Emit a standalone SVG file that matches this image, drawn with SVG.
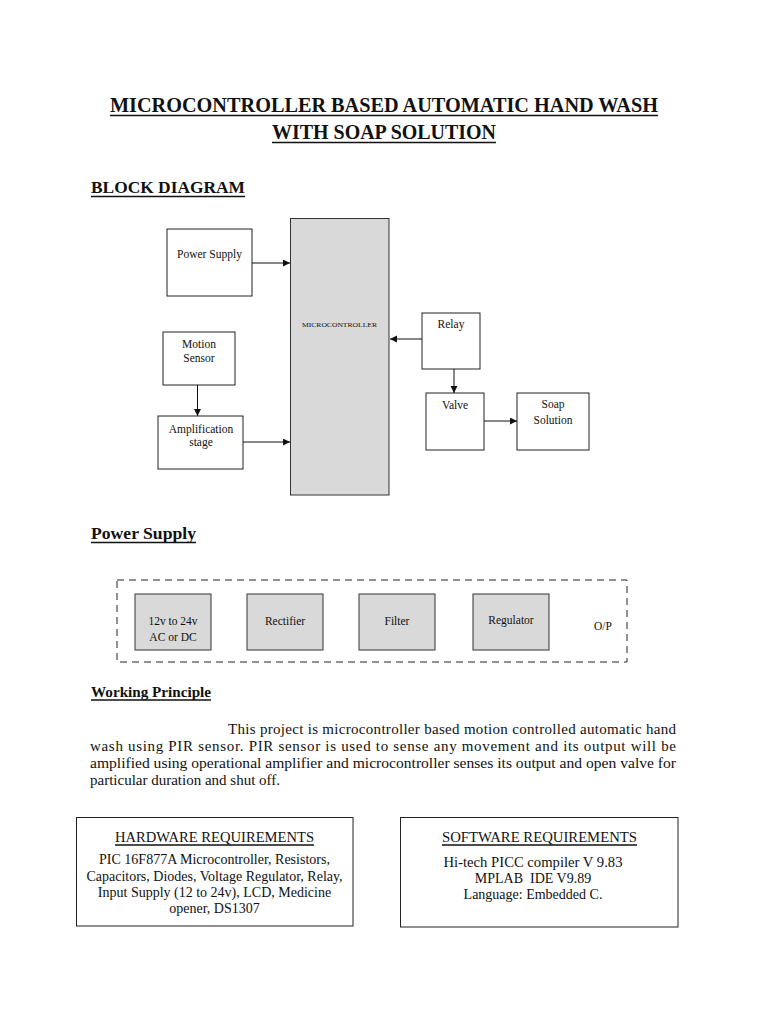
<svg xmlns="http://www.w3.org/2000/svg" width="768" height="1024" viewBox="0 0 768 1024">
<style>
text{font-family:"Liberation Serif","Times New Roman",serif;fill:#111}
.h{font-weight:bold}
.sm{font-size:11.5px;text-anchor:middle}
.box{fill:#fff;stroke:#222;stroke-width:1}
.gbox{fill:#d9d9d9;stroke:#333;stroke-width:1}
.ul{stroke:#111;stroke-width:1.3}
.conn line{stroke:#111;stroke-width:1;marker-end:url(#ah)}
.p{font-size:14px}
.q{font-size:15px}
.c{text-anchor:middle}
</style>
<defs>
<marker id="ah" markerWidth="8" markerHeight="8" refX="7" refY="3.5" orient="auto" markerUnits="userSpaceOnUse">
<path d="M0,0 L7,3.5 L0,7 Z" fill="#111"/>
</marker>
</defs>
<rect width="768" height="1024" fill="#fff"/>

<g id="title">
<text x="384" y="112" class="h c" font-size="20" textLength="548" lengthAdjust="spacingAndGlyphs">MICROCONTROLLER BASED AUTOMATIC HAND WASH</text>
<line class="ul" x1="110" y1="115.5" x2="658" y2="115.5"/>
<text x="384" y="139" class="h c" font-size="20" textLength="224" lengthAdjust="spacingAndGlyphs">WITH SOAP SOLUTION</text>
<line class="ul" x1="272" y1="142.5" x2="496" y2="142.5"/>
<text x="91" y="193" class="h" font-size="17" textLength="154" lengthAdjust="spacingAndGlyphs">BLOCK DIAGRAM</text>
<line class="ul" x1="91" y1="196.5" x2="245" y2="196.5"/>
</g>

<g id="power-supply">
<rect class="box" x="167" y="229" width="85" height="67"/>
<text class="sm" x="209.5" y="258">Power Supply</text>
</g>
<g id="microcontroller">
<rect class="gbox" x="290.5" y="218.5" width="98.5" height="276.5"/>
<text x="339.5" y="327" font-size="7" text-anchor="middle" textLength="75" lengthAdjust="spacingAndGlyphs">MICROCONTROLLER</text>
</g>
<g id="motion-sensor">
<rect class="box" x="163" y="332" width="72" height="53"/>
<text class="sm" x="199" y="348">Motion</text>
<text class="sm" x="199" y="362">Sensor</text>
</g>
<g id="amplification">
<rect class="box" x="158" y="416" width="85" height="53"/>
<text class="sm" x="201" y="433">Amplification</text>
<text class="sm" x="201" y="446">stage</text>
</g>
<g id="relay">
<rect class="box" x="422" y="313" width="58" height="56"/>
<text class="sm" x="451" y="328">Relay</text>
</g>
<g id="valve">
<rect class="box" x="426" y="393" width="58" height="57"/>
<text class="sm" x="455" y="409">Valve</text>
</g>
<g id="soap-solution">
<rect class="box" x="517" y="393" width="72" height="57"/>
<text class="sm" x="553" y="408">Soap</text>
<text class="sm" x="553" y="424">Solution</text>
</g>

<g id="connectors" class="conn">
<line x1="252" y1="263" x2="290" y2="263"/>
<line x1="243" y1="442" x2="290" y2="442"/>
<line x1="197.5" y1="385" x2="197.5" y2="416"/>
<line x1="422" y1="339" x2="390" y2="339"/>
<line x1="454" y1="369" x2="454" y2="393"/>
<line x1="484" y1="421" x2="517" y2="421"/>
</g>

<g id="power-supply-section">
<text x="91" y="539" class="h" font-size="17" textLength="105" lengthAdjust="spacingAndGlyphs">Power Supply</text>
<line class="ul" x1="91" y1="542.5" x2="196" y2="542.5"/>
<rect x="117" y="580" width="510" height="82" fill="none" stroke="#222" stroke-width="1" stroke-dasharray="7,5"/>
<g id="ps-input">
<rect class="gbox" x="135" y="594" width="76" height="56"/>
<text class="sm" x="173" y="625">12v to 24v</text>
<text class="sm" x="173" y="641">AC or DC</text>
</g>
<g id="ps-rectifier">
<rect class="gbox" x="247" y="594" width="76" height="56"/>
<text class="sm" x="285" y="625">Rectifier</text>
</g>
<g id="ps-filter">
<rect class="gbox" x="359" y="594" width="76" height="56"/>
<text class="sm" x="397" y="625">Filter</text>
</g>
<g id="ps-regulator">
<rect class="gbox" x="473" y="594" width="76" height="56"/>
<text class="sm" x="511" y="624">Regulator</text>
</g>
<text class="sm" x="603" y="630">O/P</text>
</g>

<g id="working-principle">
<text x="91" y="697" class="h" font-size="14.5" textLength="120" lengthAdjust="spacingAndGlyphs">Working Principle</text>
<line class="ul" x1="91" y1="700" x2="211" y2="700"/>
<text class="q" x="228" y="734" textLength="448" lengthAdjust="spacing">This project is microcontroller based motion controlled automatic hand</text>
<text class="q" x="90" y="751" textLength="586" lengthAdjust="spacing">wash using PIR sensor. PIR sensor is used to sense any movement and its output will be</text>
<text class="q" x="90" y="768" textLength="586" lengthAdjust="spacingAndGlyphs">amplified using operational amplifier and microcontroller senses its output and open valve for</text>
<text class="q" x="90" y="785">particular duration and shut off.</text>
</g>

<g id="hardware">
<rect class="box" x="76.5" y="817.5" width="276.5" height="108.5"/>
<text x="214.5" y="842" class="c" font-size="14.5" textLength="199" lengthAdjust="spacingAndGlyphs">HARDWARE REQUIREMENTS</text>
<line class="ul" x1="115" y1="845" x2="314" y2="845" stroke-width="1"/>
<text class="p c" x="214.5" y="864">PIC 16F877A Microcontroller, Resistors,</text>
<text class="p c" x="214.5" y="881">Capacitors, Diodes, Voltage Regulator, Relay,</text>
<text class="p c" x="214.5" y="897">Input Supply (12 to 24v), LCD, Medicine</text>
<text class="p c" x="214.5" y="913">opener, DS1307</text>
</g>

<g id="software">
<rect class="box" x="400.5" y="817.5" width="277.5" height="109.5"/>
<text x="539.5" y="842" class="c" font-size="14.5" textLength="195" lengthAdjust="spacingAndGlyphs">SOFTWARE REQUIREMENTS</text>
<line class="ul" x1="442" y1="845" x2="637" y2="845" stroke-width="1"/>
<text class="p c" x="533" y="867" textLength="179" lengthAdjust="spacingAndGlyphs">Hi-tech PICC compiler V 9.83</text>
<text class="p c" x="533" y="883" xml:space="preserve">MPLAB  IDE V9.89</text>
<text class="p c" x="533" y="899">Language: Embedded C.</text>
</g>
</svg>
